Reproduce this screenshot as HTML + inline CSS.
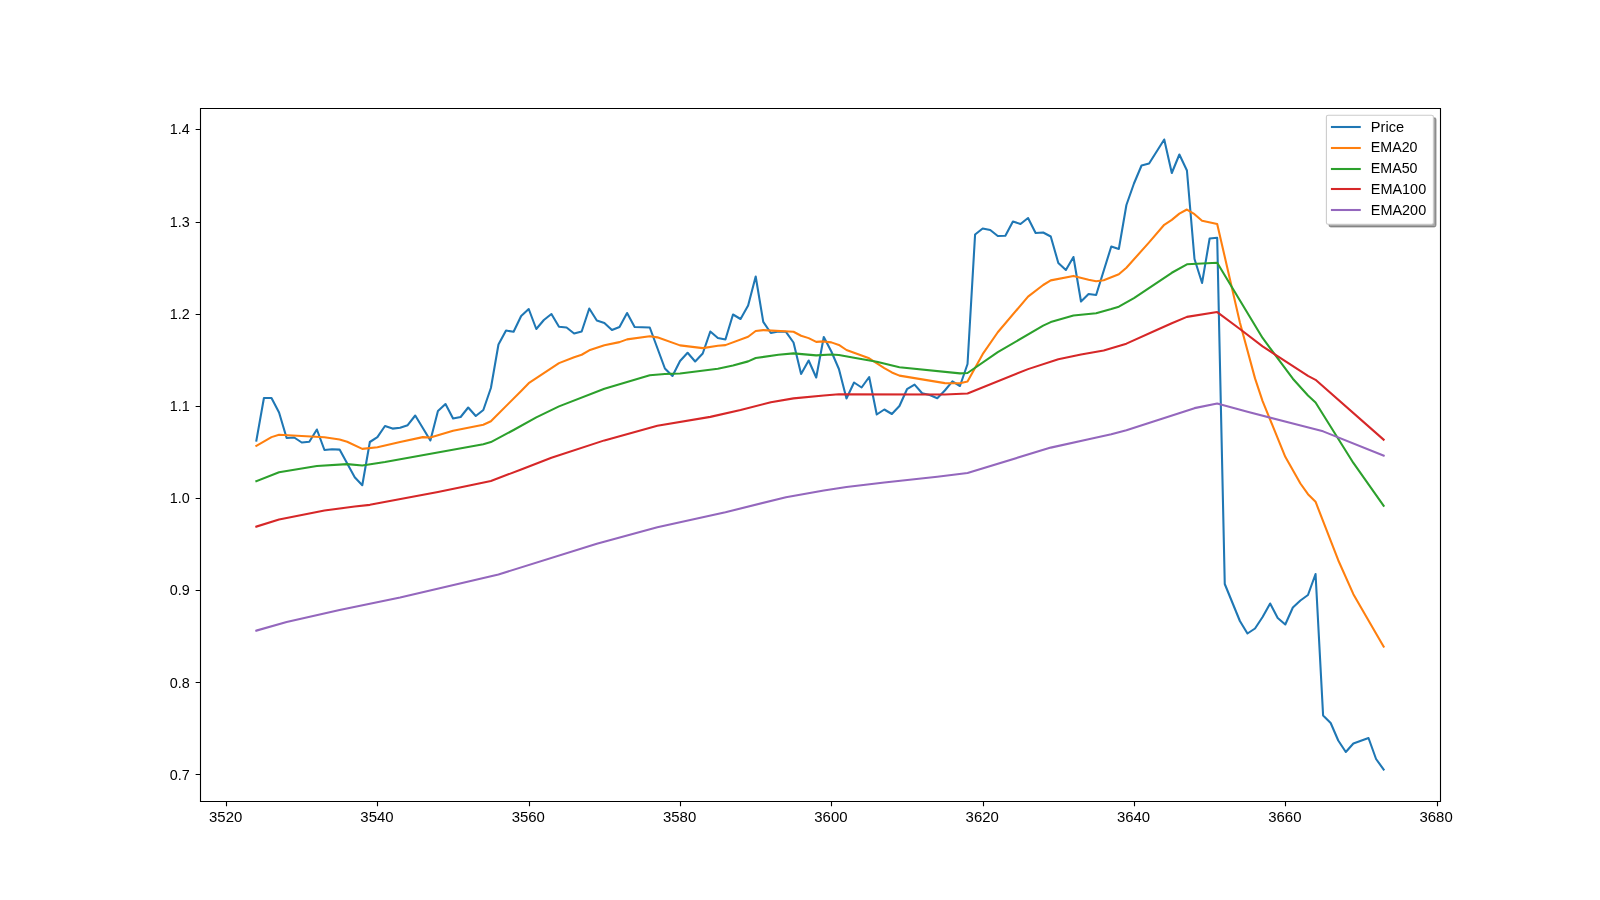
<!DOCTYPE html>
<html><head><meta charset="utf-8"><title>Price and EMAs</title>
<style>html,body{margin:0;padding:0;background:#fff;width:1600px;height:900px;overflow:hidden}
svg text{font-family:"Liberation Sans", sans-serif} svg{will-change:transform}</style></head>
<body>
<svg width="1600" height="900" viewBox="0 0 1600 900" style="display:block">
<rect x="0" y="0" width="1600" height="900" fill="#ffffff"/>
<defs><clipPath id="ax"><rect x="200" y="108" width="1240" height="693"/></clipPath></defs>
<g clip-path="url(#ax)" fill="none" stroke-width="2.083" stroke-linejoin="round" stroke-linecap="square">
<path d="M256.36,440.60 L263.93,398.00 L271.49,398.00 L279.06,412.50 L286.63,438.00 L294.19,437.50 L301.76,442.50 L309.32,441.80 L316.89,429.50 L324.45,450.00 L332.02,449.20 L339.59,449.60 L354.72,477.20 L362.28,485.20 L369.85,442.00 L377.41,437.20 L384.98,426.00 L392.54,428.60 L400.11,427.80 L407.68,425.20 L415.24,415.50 L430.37,440.50 L437.94,411.00 L445.50,404.00 L453.07,418.50 L460.63,417.00 L468.20,407.50 L475.77,416.00 L483.33,410.00 L490.90,388.00 L498.46,344.50 L506.03,330.50 L513.59,331.80 L521.16,316.00 L528.72,309.00 L536.29,329.00 L543.86,320.00 L551.42,314.00 L558.99,326.80 L566.55,327.50 L574.12,333.50 L581.68,331.50 L589.25,308.50 L596.82,320.50 L604.38,323.00 L611.95,330.00 L619.51,327.00 L627.08,313.00 L634.64,327.00 L649.77,327.50 L664.91,368.50 L672.47,376.00 L680.04,361.00 L687.60,352.80 L695.17,361.50 L702.73,353.50 L710.30,331.50 L717.86,338.00 L725.43,339.50 L733.00,314.50 L740.56,319.00 L748.13,305.50 L755.69,276.50 L763.26,321.80 L770.82,333.00 L778.39,331.50 L785.95,331.80 L793.52,342.50 L801.09,374.00 L808.65,360.50 L816.22,377.50 L823.78,337.00 L831.35,351.50 L838.91,369.00 L846.48,398.50 L854.05,382.50 L861.61,387.50 L869.18,377.00 L876.74,414.50 L884.31,409.50 L891.87,414.00 L899.44,406.00 L907.00,389.20 L914.57,384.60 L922.14,393.20 L929.70,395.00 L937.27,398.20 L944.83,390.50 L952.40,381.30 L959.96,386.00 L967.53,364.00 L975.09,234.50 L982.66,228.50 L990.23,230.00 L997.79,236.00 L1005.36,235.80 L1012.92,221.50 L1020.49,224.00 L1028.05,218.00 L1035.62,233.00 L1043.18,232.50 L1050.75,236.50 L1058.32,263.00 L1065.88,270.00 L1073.45,257.00 L1081.01,301.50 L1088.58,294.00 L1096.14,295.00 L1111.28,246.50 L1118.84,249.00 L1126.41,205.00 L1133.97,183.50 L1141.54,165.50 L1149.10,163.50 L1164.23,139.50 L1171.80,173.00 L1179.37,154.50 L1186.93,170.50 L1194.50,259.00 L1202.06,283.00 L1209.63,238.50 L1217.19,237.80 L1224.76,584.00 L1239.89,621.00 L1247.46,633.50 L1255.02,628.50 L1262.59,617.00 L1270.15,603.50 L1277.72,618.00 L1285.28,624.50 L1292.85,607.50 L1300.41,600.50 L1307.98,595.00 L1315.55,574.00 L1323.11,715.50 L1330.68,723.00 L1338.24,740.50 L1345.81,752.00 L1353.37,743.50 L1368.51,738.00 L1376.07,759.00 L1383.64,769.50" stroke="#1f77b4"/>
<path d="M256.36,445.80 L271.49,437.13 L279.06,434.78 L324.45,437.23 L339.59,439.44 L347.15,441.70 L362.28,448.90 L377.41,447.19 L400.11,442.09 L422.81,437.14 L430.37,437.46 L453.07,430.71 L483.33,424.69 L490.90,421.20 L521.16,391.00 L528.72,383.19 L558.99,363.11 L574.12,357.22 L581.68,354.77 L589.25,350.36 L604.38,345.18 L619.51,342.14 L627.08,339.37 L649.77,336.22 L657.34,337.35 L680.04,345.36 L702.73,348.10 L717.86,345.71 L725.43,345.12 L748.13,336.71 L755.69,330.97 L763.26,330.10 L793.52,331.74 L801.09,335.77 L808.65,338.12 L816.22,341.87 L823.78,341.41 L831.35,342.37 L838.91,344.91 L846.48,350.01 L869.18,358.34 L884.31,368.05 L891.87,372.43 L899.44,375.63 L944.83,383.10 L959.96,383.22 L967.53,381.39 L982.66,354.17 L997.79,332.22 L1028.05,296.58 L1043.18,285.00 L1050.75,280.38 L1073.45,275.90 L1088.58,279.83 L1096.14,281.28 L1103.71,280.20 L1118.84,274.33 L1126.41,267.72 L1149.10,242.42 L1164.23,224.79 L1171.80,219.85 L1179.37,213.63 L1186.93,209.52 L1194.50,214.24 L1202.06,220.78 L1217.19,223.93 L1239.89,322.44 L1255.02,378.39 L1262.59,401.12 L1285.28,456.86 L1300.41,483.52 L1307.98,494.14 L1315.55,501.74 L1338.24,560.21 L1353.37,594.19 L1368.51,620.54 L1383.64,646.66" stroke="#ff7f0e"/>
<path d="M256.36,481.10 L279.06,472.27 L316.89,466.01 L347.15,464.12 L362.28,465.44 L384.98,461.98 L483.33,444.27 L490.90,442.06 L513.59,430.00 L536.29,417.36 L558.99,406.39 L604.38,388.76 L649.77,375.22 L664.91,373.93 L680.04,373.50 L717.86,368.69 L733.00,365.47 L748.13,361.37 L755.69,358.04 L778.39,354.74 L793.52,353.40 L816.22,355.36 L831.35,354.51 L838.91,355.08 L854.05,357.79 L876.74,361.82 L899.44,367.24 L959.96,373.37 L967.53,373.00 L997.79,352.20 L1043.18,325.59 L1050.75,322.10 L1073.45,315.44 L1096.14,313.33 L1111.28,309.07 L1118.84,306.72 L1133.97,298.05 L1171.80,272.76 L1186.93,264.29 L1217.19,262.78 L1262.59,337.99 L1292.85,378.73 L1307.98,395.56 L1315.55,402.56 L1353.37,462.93 L1383.64,505.74" stroke="#2ca02c"/>
<path d="M256.36,526.60 L279.06,519.40 L324.45,510.41 L354.72,506.54 L369.85,504.85 L437.94,491.94 L468.20,485.77 L490.90,481.04 L521.16,469.46 L551.42,457.82 L604.38,440.38 L657.34,425.79 L710.30,416.86 L740.56,409.99 L770.82,402.26 L793.52,398.37 L823.78,395.57 L838.91,394.19 L944.83,394.57 L967.53,393.54 L1028.05,369.12 L1058.32,359.30 L1081.01,354.47 L1103.71,350.50 L1126.41,343.67 L1156.67,329.99 L1171.80,323.18 L1186.93,316.88 L1217.19,312.07 L1239.89,329.00 L1262.59,346.31 L1307.98,375.90 L1315.55,379.82 L1383.64,439.67" stroke="#d62728"/>
<path d="M256.36,630.60 L286.63,622.02 L339.59,609.91 L400.11,597.46 L498.46,574.50 L596.82,543.83 L657.34,527.23 L725.43,512.26 L785.95,497.24 L823.78,490.46 L846.48,487.00 L884.31,482.48 L937.27,476.71 L967.53,472.93 L1050.75,447.62 L1088.58,439.32 L1111.28,434.32 L1126.41,430.22 L1194.50,408.14 L1217.19,403.55 L1247.46,411.67 L1292.85,423.59 L1323.11,431.36 L1383.64,455.55" stroke="#9467bd"/>
</g>
<g fill="none" stroke="#000" stroke-width="1.111" stroke-linecap="square">
<path d="M200.5,801.5 L200.5,108.5 M1440.5,801.5 L1440.5,108.5 M200.5,801.5 L1440.5,801.5 M200.5,108.5 L1440.5,108.5"/>
<path d="M226.5,801.5 L226.5,806.36 M377.5,801.5 L377.5,806.36 M529.5,801.5 L529.5,806.36 M680.5,801.5 L680.5,806.36 M831.5,801.5 L831.5,806.36 M983.5,801.5 L983.5,806.36 M1134.5,801.5 L1134.5,806.36 M1285.5,801.5 L1285.5,806.36 M1437.5,801.5 L1437.5,806.36 M200.5,774.5 L195.64,774.5 M200.5,682.5 L195.64,682.5 M200.5,590.5 L195.64,590.5 M200.5,498.5 L195.64,498.5 M200.5,406.5 L195.64,406.5 M200.5,314.5 L195.64,314.5 M200.5,222.5 L195.64,222.5 M200.5,129.5 L195.64,129.5" stroke-linecap="butt"/>
</g>
<g font-family="Liberation Sans, sans-serif" font-size="13.889" fill="#000">
<text x="209.04" y="822" textLength="33.22" lengthAdjust="spacingAndGlyphs">3520</text>
<text x="360.35" y="822" textLength="33.22" lengthAdjust="spacingAndGlyphs">3540</text>
<text x="511.66" y="822" textLength="33.22" lengthAdjust="spacingAndGlyphs">3560</text>
<text x="662.97" y="822" textLength="33.22" lengthAdjust="spacingAndGlyphs">3580</text>
<text x="814.29" y="822" textLength="33.22" lengthAdjust="spacingAndGlyphs">3600</text>
<text x="965.60" y="822" textLength="33.22" lengthAdjust="spacingAndGlyphs">3620</text>
<text x="1116.91" y="822" textLength="33.22" lengthAdjust="spacingAndGlyphs">3640</text>
<text x="1268.22" y="822" textLength="33.22" lengthAdjust="spacingAndGlyphs">3660</text>
<text x="1419.53" y="822" textLength="33.22" lengthAdjust="spacingAndGlyphs">3680</text>
<text x="169.74" y="780" textLength="19.99" lengthAdjust="spacingAndGlyphs">0.7</text>
<text x="169.74" y="688" textLength="19.99" lengthAdjust="spacingAndGlyphs">0.8</text>
<text x="169.74" y="595" textLength="19.99" lengthAdjust="spacingAndGlyphs">0.9</text>
<text x="169.74" y="503" textLength="19.99" lengthAdjust="spacingAndGlyphs">1.0</text>
<text x="169.74" y="411" textLength="19.99" lengthAdjust="spacingAndGlyphs">1.1</text>
<text x="169.74" y="319" textLength="19.99" lengthAdjust="spacingAndGlyphs">1.2</text>
<text x="169.74" y="227" textLength="19.99" lengthAdjust="spacingAndGlyphs">1.3</text>
<text x="169.74" y="134" textLength="19.99" lengthAdjust="spacingAndGlyphs">1.4</text>
</g>
<rect x="1329.00" y="117.90" width="107.00" height="109.00" rx="1.80" ry="1.80" fill="#4d4d4d" fill-opacity="0.5" stroke="#4d4d4d" stroke-opacity="0.5" stroke-width="1.111"/>
<rect x="1326.40" y="115.30" width="107.00" height="109.00" rx="1.80" ry="1.80" fill="#ffffff" stroke="#cccccc" stroke-width="1.111"/>
<path d="M1331.96,127.00 L1359.73,127.00" stroke="#1f77b4" stroke-width="2.083" stroke-linecap="square" fill="none"/>
<text x="1370.84" y="132" font-family="Liberation Sans, sans-serif" font-size="13.889" textLength="33.27" lengthAdjust="spacingAndGlyphs" fill="#000">Price</text>
<path d="M1331.96,148.00 L1359.73,148.00" stroke="#ff7f0e" stroke-width="2.083" stroke-linecap="square" fill="none"/>
<text x="1370.84" y="152" font-family="Liberation Sans, sans-serif" font-size="13.889" textLength="46.73" lengthAdjust="spacingAndGlyphs" fill="#000">EMA20</text>
<path d="M1331.96,169.00 L1359.73,169.00" stroke="#2ca02c" stroke-width="2.083" stroke-linecap="square" fill="none"/>
<text x="1370.84" y="173" font-family="Liberation Sans, sans-serif" font-size="13.889" textLength="46.73" lengthAdjust="spacingAndGlyphs" fill="#000">EMA50</text>
<path d="M1331.96,189.00 L1359.73,189.00" stroke="#d62728" stroke-width="2.083" stroke-linecap="square" fill="none"/>
<text x="1370.84" y="194" font-family="Liberation Sans, sans-serif" font-size="13.889" textLength="55.35" lengthAdjust="spacingAndGlyphs" fill="#000">EMA100</text>
<path d="M1331.96,210.00 L1359.73,210.00" stroke="#9467bd" stroke-width="2.083" stroke-linecap="square" fill="none"/>
<text x="1370.84" y="215" font-family="Liberation Sans, sans-serif" font-size="13.889" textLength="55.35" lengthAdjust="spacingAndGlyphs" fill="#000">EMA200</text>
</svg>
</body></html>
